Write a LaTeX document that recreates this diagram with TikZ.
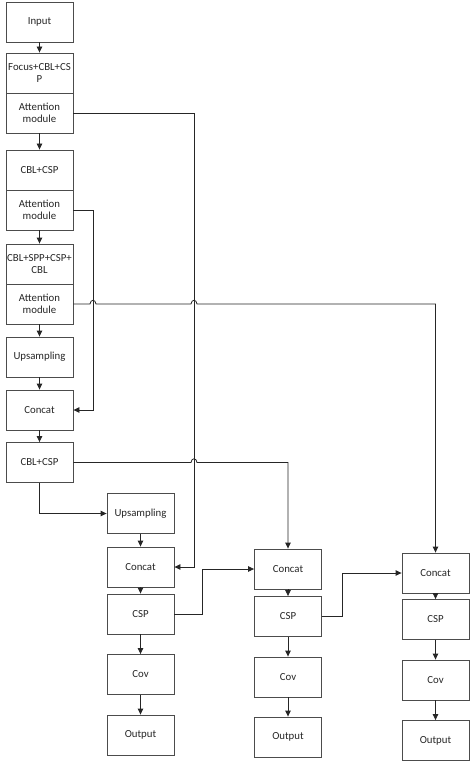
\documentclass[tikz,border=0pt]{standalone}
\usepackage{fontspec}
\setmainfont{Carlito}
\usetikzlibrary{arrows.meta}
\begin{document}
\begin{tikzpicture}[x=1pt,y=-1pt,
  box/.style={draw=black!70,line width=0.85pt,minimum width=67pt,minimum height=40pt,inner sep=1pt,align=center,font=\fontsize{10.8}{12.5}\selectfont,text=black!85},
  arr/.style={line width=0.85pt,draw=black!85,-{Triangle[length=6pt,width=5.5pt]}},
  ln/.style={line width=0.85pt,draw=black!85}]
\useasboundingbox (0,0) rectangle (474,767);
% left column
\node[box] (input) at (39.5,22) {Input};
\node[box] (focus) at (39.5,73) {Focus+CBL+CS\\P};
\node[box] (att1) at (39.5,113) {Attention\\module};
\node[box] (cbl1) at (39.5,170) {CBL+CSP};
\node[box] (att2) at (39.5,210) {Attention\\module};
\node[box] (spp) at (39.5,264) {CBL+SPP+CSP+\\CBL};
\node[box] (att3) at (39.5,304) {Attention\\module};
\node[box] (up1) at (39.5,357) {Upsampling};
\node[box] (concat1) at (39.5,410) {Concat};
\node[box] (cbl2) at (39.5,462.5) {CBL+CSP};
% column B
\node[box] (upB) at (140.5,513.5) {Upsampling};
\node[box] (concatB) at (140.5,567) {Concat};
\node[box] (cspB) at (140.5,614) {CSP};
\node[box] (covB) at (140.5,674.5) {Cov};
\node[box] (outB) at (140.5,735) {Output};
% column C
\node[box] (concatC) at (288,569) {Concat};
\node[box] (cspC) at (288,616.5) {CSP};
\node[box] (covC) at (288,677) {Cov};
\node[box] (outC) at (288,737) {Output};
% column D
\node[box] (concatD) at (435.5,573) {Concat};
\node[box] (cspD) at (435.5,619.5) {CSP};
\node[box] (covD) at (435.5,680) {Cov};
\node[box] (outD) at (435.5,740.5) {Output};
% vertical arrows
\foreach \a/\b in {input/focus,att1/cbl1,att2/spp,att3/up1,up1/concat1,concat1/cbl2,
  upB/concatB,concatB/cspB,cspB/covB,covB/outB,
  concatC/cspC,cspC/covC,covC/outC,
  concatD/cspD,cspD/covD,covD/outD}
  \draw[arr] (\a.south) -- (\b.north);
% skip connections
\draw[arr] (att1.east) -- ++(121,0) |- (concatB.east);
\draw[arr] (att2.east) -- ++(20,0) |- (concat1.east);
\draw[arr] (att3.east) -- (90,304) .. controls (90.5,299) and (95.5,299) .. (96,304)
  -- (191,304) .. controls (191.5,299) and (196.5,299) .. (197,304) -| (concatD.north);
\draw[arr] (cbl2.east) -- (191,462.5) .. controls (191.5,457.5) and (196.5,457.5) .. (197,462.5) -| (concatC.north);
\draw[arr] (cbl2.south) |- (upB.west);
\draw[arr] (cspB.east) -- ++(28,0) |- (concatC.west);
\draw[arr] (cspC.east) -- ++(20,0) |- (concatD.west);
\end{tikzpicture}
\end{document}
